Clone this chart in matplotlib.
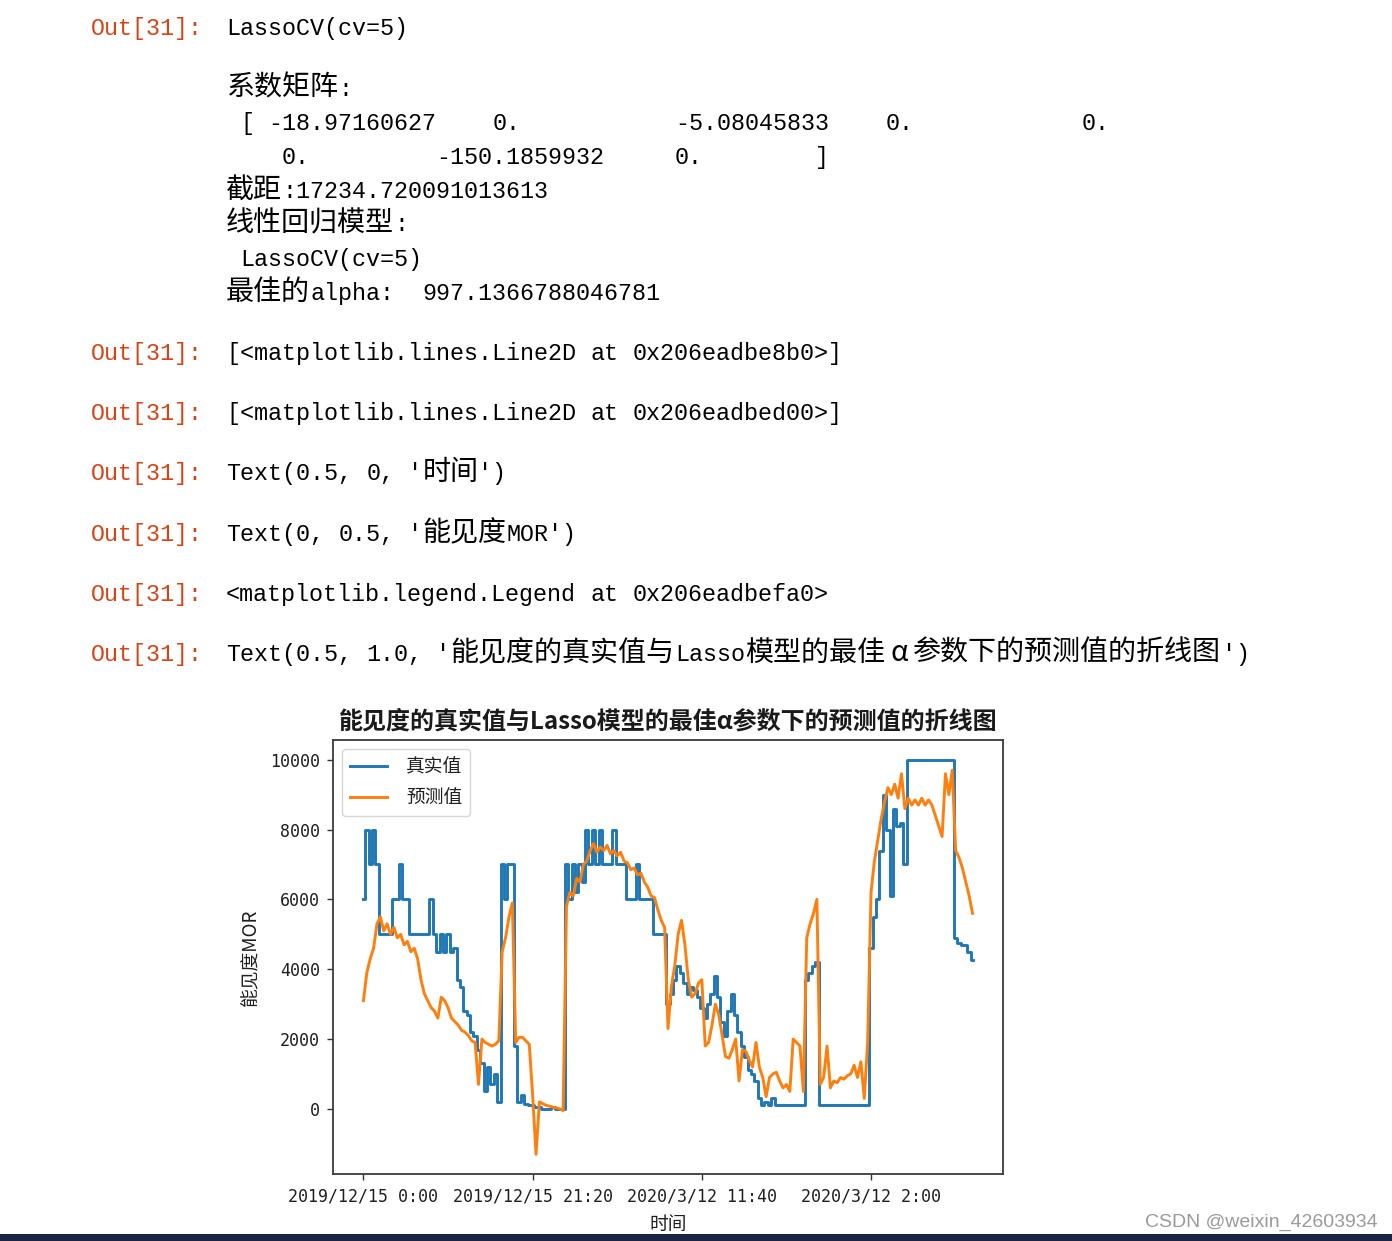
import matplotlib
matplotlib.use('Agg')
import matplotlib.pyplot as plt
from matplotlib.patches import Rectangle
import numpy as np

W, H, DPI = 1392, 1241, 100

# ---------------- data ----------------
true_vals = [
    6000, 8000, 7000, 8000, 7000, 5000, 5000, 5000, 5000, 6000,
    6000, 7000, 6000, 6000, 5000, 5000, 5000, 5000, 5000, 5000,
    6000, 5000, 4500, 5000, 4500, 5000, 4500, 4600, 3700, 3500,
    2800, 2700, 2200, 2100, 1700, 1300, 500, 1200, 700, 1000,
    200, 7000, 6000, 7000, 7000, 1800, 200, 400, 150, 100,
    100, 50, 50, 0, 0, 0, 50, 0, 0, 0,
    7000, 6000, 7000, 6200, 7000, 6500, 8000, 7000, 8000, 7000,
    8000, 7000, 7000, 7000, 8000, 7000, 7000, 7000, 6000, 6000,
    6000, 7000, 6000, 6000, 6000, 6000, 5000, 5000, 5000, 5000,
    3000, 3300, 3700, 4100, 3900, 3600, 3300, 3500, 3400, 3200,
    2900, 2600, 3000, 3300, 3800, 3200, 2500, 2100, 2800, 3300,
    2700, 2200, 1800, 1500, 1100, 1000, 800, 300, 100, 200,
    100, 300, 100, 100, 100, 100, 100, 100, 100, 100,
    100, 3700, 3900, 4100, 4200, 100, 100, 100, 100, 100,
    100, 100, 100, 100, 100, 100, 100, 100, 100, 100,
    4600, 5500, 6000, 7400, 9000, 8000, 6100, 8600, 8100, 8200,
    7000, 10000, 10000, 10000, 10000, 10000, 10000, 10000, 10000, 10000,
    10000, 10000, 10000, 10000, 10000, 4900, 4750, 4700, 4700, 4500,
    4250,
]
pred_vals = [
    3100, 3900, 4300, 4600, 5300, 5500, 5100, 5300, 5000, 5200,
    4900, 5000, 4700, 4800, 4500, 4600, 4300, 3700, 3300, 3100,
    2900, 2800, 2600, 3200, 3100, 2900, 2600, 2500, 2400, 2250,
    2200, 2100, 1950, 1900, 700, 2000, 1900, 1850, 1800, 1850,
    1950, 4500, 4900, 5500, 5900, 1900, 2050, 2050, 1950, 1850,
    400, -1300, 200, 150, 100, 80, 50, 30, 0, -50,
    5800, 6200, 6100, 6600, 6500, 7000, 7100, 7400, 7600, 7350,
    7500, 7400, 7550, 7300, 7400, 7250, 7350, 7100, 7050, 6850,
    6900, 6700, 6750, 6500, 6350, 6100, 6050, 5700, 5400, 5200,
    2300, 3500, 4100, 5000, 5400, 4700, 3700, 3200, 3300, 3600,
    3700, 1800, 1900, 2400, 3000, 2700, 2100, 1500, 1450, 1700,
    2000, 800, 1700, 1650, 1400, 1200, 1900, 1200, 900, 350,
    900, 1000, 1050, 800, 600, 700, 500, 2000, 1900, 1800,
    500, 4900, 5300, 5600, 6000, 700, 900, 1800, 600, 800,
    750, 900, 850, 950, 1000, 1250, 900, 1350, 300, 1900,
    6200, 7100, 7700, 8300, 8800, 9200, 9000, 9300, 8900, 9600,
    8600, 8900, 8700, 8850, 8700, 8900, 8700, 8850, 8700, 8400,
    8100, 7800, 9600, 9000, 9700, 7400, 7200, 6900, 6500, 6100,
    5600,
]
tick_pos = [0, 50, 100, 150]
tick_labels = ['2019/12/15 0:00', '2019/12/15 21:20', '2020/3/12 11:40', '2020/3/12 2:00']
series_labels = ['真实值', '预测值']
chart_title = '能见度的真实值与Lasso模型的最佳α参数下的预测值的折线图'
x_label = '时间'
y_label = '能见度MOR'

prompt_text = 'Out[31]:'
block_lines = [
    (26, 'LassoCV(cv=5)', True),
    (87, '系数矩阵:', False),
    (121, ' [ -18.97160627    0.           -5.08045833    0.            0.', False),
    (155, '    0.         -150.1859932     0.        ]', False),
    (189, '截距:17234.720091013613', False),
    (222, '线性回归模型:', False),
    (257, ' LassoCV(cv=5)', False),
    (291, '最佳的alpha:  997.1366788046781', False),
    (351, '[<matplotlib.lines.Line2D at 0x206eadbe8b0>]', True),
    (411, '[<matplotlib.lines.Line2D at 0x206eadbed00>]', True),
    (471, "Text(0.5, 0, '时间')", True),
    (532, "Text(0, 0.5, '能见度MOR')", True),
    (592, '<matplotlib.legend.Legend at 0x206eadbefa0>', True),
    (652, "Text(0.5, 1.0, '能见度的真实值与Lasso模型的最佳α参数下的预测值的折线图')", True),
]
watermark = 'CSDN @weixin_42603934'

# ---------------- figure ----------------
CJK = ['Noto Sans CJK SC', 'DejaVu Sans']
MONO = ['Liberation Mono', 'DejaVu Sans Mono']
TICKFONT = ['DejaVu Sans Mono', 'Noto Sans CJK SC']
plt.rcParams['font.family'] = CJK
plt.rcParams['axes.unicode_minus'] = False

fig = plt.figure(figsize=(W / DPI, H / DPI), dpi=DPI)
fig.patch.set_facecolor('white')

CW = 14.03          # monospace cell width in pixels
X0 = 225.9          # left of column 0
PX0 = 91.0          # left of prompt column 0
ASCII_PT = CW / 0.6 * 72 / DPI
CJK_PT = 2 * CW * 72 / DPI


def fx(x):
    return x / W


def fy(y):
    return 1 - y / H


def kind(ch):
    o = ord(ch)
    if o < 128:
        return 'a'
    if o >= 0x2E80:
        return 'c'
    return 'o'


def mono(x0, yc, s, color='black'):
    """place a line of text on a monospace grid (wide chars take two cells)"""
    base = yc + 9
    col = 0
    tokens = []
    cur, cur_col, cur_kind = '', 0, None
    for ch in s:
        k = kind(ch)
        if ch == ' ' or k == 'o' or (cur and k != cur_kind):
            if cur:
                tokens.append((cur_col, cur, cur_kind))
                cur = ''
        if ch == ' ':
            col += 1
            continue
        if k == 'o':
            tokens.append((col, ch, 'o'))
            col += 2
            continue
        if not cur:
            cur_col, cur_kind = col, k
        cur += ch
        col += 2 if k == 'c' else 1
    if cur:
        tokens.append((cur_col, cur, cur_kind))
    for c, t, k in tokens:
        if k == 'c':
            fig.text(fx(x0 + c * CW), fy(base), t, fontsize=CJK_PT,
                     family=CJK, color=color, ha='left', va='baseline')
        elif k == 'o':
            fig.text(fx(x0 + (c + 1) * CW), fy(base), t, fontsize=CJK_PT,
                     family=CJK, color=color, ha='center', va='baseline')
        else:
            fig.text(fx(x0 + c * CW), fy(base), t, fontsize=ASCII_PT,
                     family=MONO, color=color, ha='left', va='baseline')


for yc, s, has_prompt in block_lines:
    if has_prompt:
        mono(PX0, yc, prompt_text, color='#D84315')
    mono(X0, yc, s)

# ---------------- chart ----------------
ax = fig.add_axes([fx(333), fy(1174), 670 / W, 434 / H])
x = np.arange(len(true_vals))
ax.plot(x, true_vals, color='#1f77b4', lw=2.1, drawstyle='steps-mid',
        label=series_labels[0])
ax.plot(x, pred_vals, color='#ff7f0e', lw=2.1, label=series_labels[1])
ax.set_xticks(tick_pos)
ax.set_xticklabels(tick_labels)
ax.tick_params(axis='both', labelsize=12, length=4.5, width=1.0, pad=5,
               color='#333333', labelcolor='#1f1f1f')
for lbl in ax.get_xticklabels() + ax.get_yticklabels():
    lbl.set_fontfamily(TICKFONT)
for sp in ax.spines.values():
    sp.set_linewidth(1.3)
    sp.set_color('#3a3a3a')
ax.set_xlabel(x_label, fontsize=13.5, labelpad=6.5, color='#1f1f1f')
ax.set_ylabel(y_label, fontsize=13.5, labelpad=6, color='#1f1f1f')
ax.set_title(chart_title, fontsize=17.3, pad=8, color='#1a1a1a', fontweight='bold')
leg = ax.legend(loc='upper left', fontsize=13.5, handletextpad=1.0)
leg.get_frame().set_linewidth(1.0)
for t in leg.get_texts():
    t.set_color('#1f1f1f')

# page decorations
fig.text(fx(1378), fy(1222), watermark, fontsize=14, color='#9a9a9a',
         family=['Liberation Sans', 'DejaVu Sans'], ha='right', va='center')
fig.patches.append(Rectangle((0, 0), 1, 7 / H, transform=fig.transFigure,
                             facecolor='#1a2543', edgecolor='none'))

fig.savefig('out.png', dpi=DPI, facecolor='white')
